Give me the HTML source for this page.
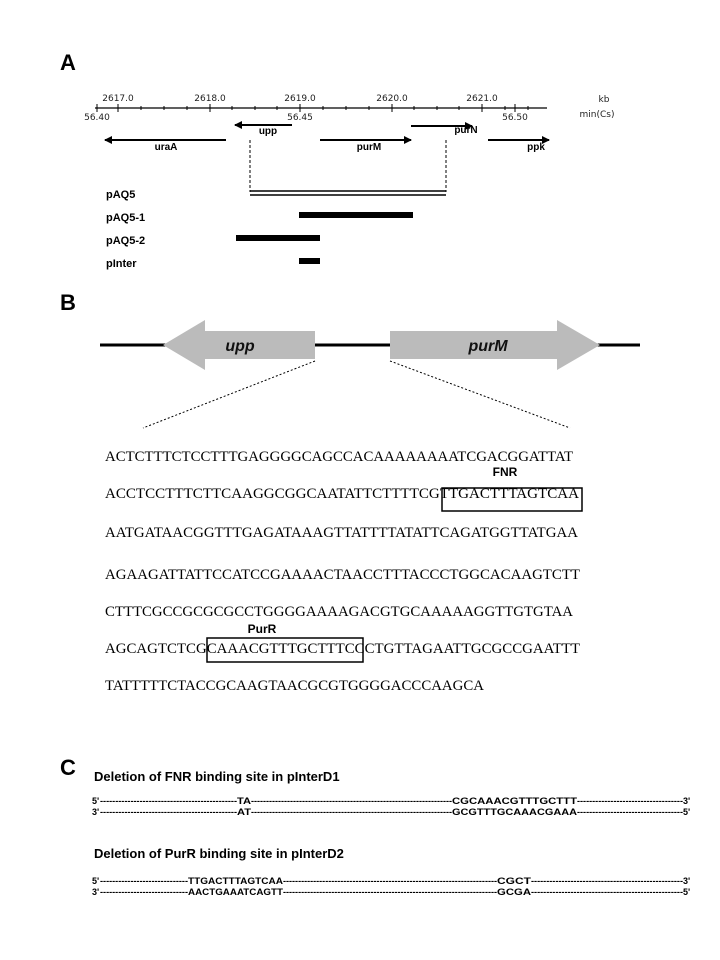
<!DOCTYPE html>
<html><head><meta charset="utf-8"><style>
html,body{margin:0;padding:0;background:#fff;}
svg{display:block;}
.ar{font-family:"Liberation Sans",Arial,sans-serif;}
.sq{font-family:"Liberation Serif","Times New Roman",serif;font-size:15px;}
</style></head><body>
<svg width="720" height="960" viewBox="0 0 720 960" xmlns="http://www.w3.org/2000/svg">
<defs>
<marker id="ah" markerWidth="8" markerHeight="8" refX="7" refY="4" orient="auto" markerUnits="userSpaceOnUse"><path d="M0,0 L8,4 L0,8 z" fill="#000"/></marker>
</defs>
<g class="ar" font-weight="bold" font-size="22">
<text x="60" y="70">A</text>
<text x="60" y="310">B</text>
<text x="60" y="775">C</text>
</g>
<line x1="95" y1="108" x2="547" y2="108" stroke="#000" stroke-width="1.2"/>
<g stroke="#000" stroke-width="1">
<line x1="118" y1="104" x2="118" y2="112"/><line x1="210" y1="104" x2="210" y2="112"/><line x1="300" y1="104" x2="300" y2="112"/><line x1="392" y1="104" x2="392" y2="112"/><line x1="482" y1="104" x2="482" y2="112"/>
<line x1="97" y1="104" x2="97" y2="112"/><line x1="515" y1="104" x2="515" y2="112"/>
<line x1="141" y1="106" x2="141" y2="110"/><line x1="164" y1="106" x2="164" y2="110"/><line x1="187" y1="106" x2="187" y2="110"/>
<line x1="232" y1="106" x2="232" y2="110"/><line x1="255" y1="106" x2="255" y2="110"/><line x1="277" y1="106" x2="277" y2="110"/>
<line x1="323" y1="106" x2="323" y2="110"/><line x1="346" y1="106" x2="346" y2="110"/><line x1="369" y1="106" x2="369" y2="110"/>
<line x1="414" y1="106" x2="414" y2="110"/><line x1="437" y1="106" x2="437" y2="110"/><line x1="459" y1="106" x2="459" y2="110"/>
<line x1="505" y1="106" x2="505" y2="110"/><line x1="528" y1="106" x2="528" y2="110"/>
</g>
<g font-family="'DejaVu Sans',sans-serif" font-size="9" fill="#222" text-anchor="middle">
<text x="118" y="101">2617.0</text><text x="210" y="101">2618.0</text><text x="300" y="101">2619.0</text><text x="392" y="101">2620.0</text><text x="482" y="101">2621.0</text>
<text x="97" y="120">56.40</text><text x="300" y="120">56.45</text><text x="515" y="120">56.50</text>
<text x="604" y="102">kb</text><text x="597" y="117">min(Cs)</text>
</g>
<g stroke="#000" stroke-width="2" marker-end="url(#ah)">
<line x1="292" y1="125" x2="235" y2="125"/>
<line x1="226" y1="140" x2="105" y2="140"/>
<line x1="320" y1="140" x2="411" y2="140"/>
<line x1="411" y1="126" x2="472" y2="126"/>
<line x1="488" y1="140" x2="549" y2="140"/>
</g>
<g class="ar" font-weight="bold" font-size="10" text-anchor="middle">
<text x="268" y="134">upp</text><text x="166" y="150">uraA</text><text x="369" y="150">purM</text><text x="466" y="133">purN</text><text x="536" y="150">ppk</text>
</g>
<g stroke="#000" stroke-width="1" stroke-dasharray="3,2"><line x1="250" y1="140" x2="250" y2="192"/><line x1="446" y1="140" x2="446" y2="192"/></g>
<line x1="250" y1="191" x2="446" y2="191" stroke="#000" stroke-width="1.5"/>
<line x1="250" y1="195" x2="446" y2="195" stroke="#000" stroke-width="1.5"/>
<rect x="299" y="212" width="114" height="6"/>
<rect x="236" y="235" width="84" height="6"/>
<rect x="299" y="258" width="21" height="6"/>
<g class="ar" font-weight="bold" font-size="11">
<text x="106" y="198">pAQ5</text><text x="106" y="221">pAQ5-1</text><text x="106" y="244">pAQ5-2</text><text x="106" y="267">pInter</text>
</g>
<line x1="100" y1="345" x2="640" y2="345" stroke="#000" stroke-width="3"/>
<polygon points="163,345 205,320 205,331 315,331 315,359 205,359 205,370" fill="#bbb"/>
<polygon points="390,331 557,331 557,320 600,345 557,370 557,359 390,359" fill="#bbb"/>
<g class="ar" font-weight="bold" font-style="italic" font-size="16" fill="#111" text-anchor="middle">
<text x="240" y="351">upp</text><text x="488" y="351">purM</text>
</g>
<g stroke="#000" stroke-width="1" stroke-dasharray="2,2"><line x1="315" y1="361" x2="143" y2="428"/><line x1="390" y1="361" x2="570" y2="428"/></g>
<g class="sq">
<text x="105" y="461" textLength="468" lengthAdjust="spacingAndGlyphs">ACTCTTTCTCCTTTGAGGGGCAGCCACAAAAAAAATCGACGGATTAT</text>
<text x="105" y="498" textLength="474" lengthAdjust="spacingAndGlyphs">ACCTCCTTTCTTCAAGGCGGCAATATTCTTTTCGTTGACTTTAGTCAA</text>
<text x="105" y="537" textLength="473" lengthAdjust="spacingAndGlyphs">AATGATAACGGTTTGAGATAAAGTTATTTTATATTCAGATGGTTATGAA</text>
<text x="105" y="579" textLength="475" lengthAdjust="spacingAndGlyphs">AGAAGATTATTCCATCCGAAAACTAACCTTTACCCTGGCACAAGTCTT</text>
<text x="105" y="616" textLength="468" lengthAdjust="spacingAndGlyphs">CTTTCGCCGCGCGCCTGGGGAAAAGACGTGCAAAAAGGTTGTGTAA</text>
<text x="105" y="653" textLength="475" lengthAdjust="spacingAndGlyphs">AGCAGTCTCGCAAACGTTTGCTTTCCCTGTTAGAATTGCGCCGAATTT</text>
<text x="105" y="690" textLength="379" lengthAdjust="spacingAndGlyphs">TATTTTTCTACCGCAAGTAACGCGTGGGGACCCAAGCA</text>
</g>
<rect x="442" y="488" width="140" height="23" fill="none" stroke="#000" stroke-width="1.5"/>
<rect x="207" y="638" width="156" height="24" fill="none" stroke="#000" stroke-width="1.5"/>
<g class="ar" font-weight="bold" font-size="12" text-anchor="middle">
<text x="505" y="476">FNR</text><text x="262" y="633">PurR</text>
</g>
<g class="ar" font-weight="bold" font-size="13">
<text x="94" y="781">Deletion of FNR binding site in pInterD1</text>
<text x="94" y="858">Deletion of PurR binding site in pInterD2</text>
</g>
<g class="ar" font-weight="bold" font-size="9">
<text x="92" y="804">5'</text>
<text x="100" y="804" textLength="137" lengthAdjust="spacingAndGlyphs">---------------------------------------------</text>
<text x="237" y="804" textLength="14" lengthAdjust="spacingAndGlyphs">TA</text>
<text x="251" y="804" textLength="201" lengthAdjust="spacingAndGlyphs">-------------------------------------------------------------------</text>
<text x="452" y="804" textLength="125" lengthAdjust="spacingAndGlyphs">CGCAAACGTTTGCTTT</text>
<text x="577" y="804" textLength="106" lengthAdjust="spacingAndGlyphs">-----------------------------------</text>
<text x="683" y="804">3'</text>
<text x="92" y="815">3'</text>
<text x="100" y="815" textLength="137" lengthAdjust="spacingAndGlyphs">---------------------------------------------</text>
<text x="237" y="815" textLength="14" lengthAdjust="spacingAndGlyphs">AT</text>
<text x="251" y="815" textLength="201" lengthAdjust="spacingAndGlyphs">-------------------------------------------------------------------</text>
<text x="452" y="815" textLength="125" lengthAdjust="spacingAndGlyphs">GCGTTTGCAAACGAAA</text>
<text x="577" y="815" textLength="106" lengthAdjust="spacingAndGlyphs">-----------------------------------</text>
<text x="683" y="815">5'</text>
<text x="92" y="884">5'</text>
<text x="100" y="884" textLength="88" lengthAdjust="spacingAndGlyphs">-----------------------------</text>
<text x="188" y="884" textLength="95" lengthAdjust="spacingAndGlyphs">TTGACTTTAGTCAA</text>
<text x="283" y="884" textLength="214" lengthAdjust="spacingAndGlyphs">-----------------------------------------------------------------------</text>
<text x="497" y="884" textLength="34" lengthAdjust="spacingAndGlyphs">CGCT</text>
<text x="531" y="884" textLength="152" lengthAdjust="spacingAndGlyphs">--------------------------------------------------</text>
<text x="683" y="884">3'</text>
<text x="92" y="895">3'</text>
<text x="100" y="895" textLength="88" lengthAdjust="spacingAndGlyphs">-----------------------------</text>
<text x="188" y="895" textLength="95" lengthAdjust="spacingAndGlyphs">AACTGAAATCAGTT</text>
<text x="283" y="895" textLength="214" lengthAdjust="spacingAndGlyphs">-----------------------------------------------------------------------</text>
<text x="497" y="895" textLength="34" lengthAdjust="spacingAndGlyphs">GCGA</text>
<text x="531" y="895" textLength="152" lengthAdjust="spacingAndGlyphs">--------------------------------------------------</text>
<text x="683" y="895">5'</text>
</g>
</svg>
</body></html>
